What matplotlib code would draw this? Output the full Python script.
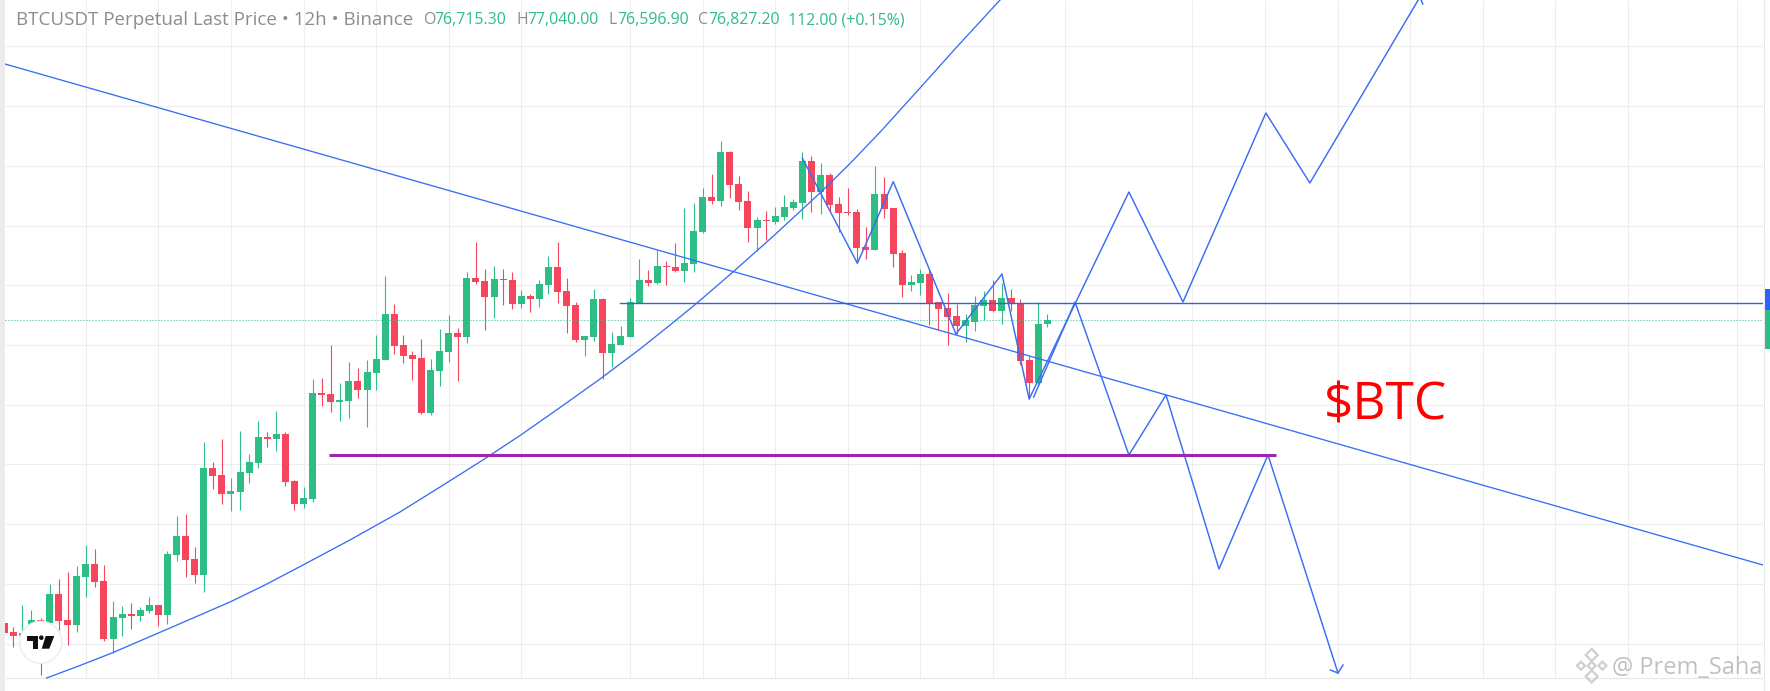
import numpy as np
import matplotlib
matplotlib.use("Agg")
import matplotlib.pyplot as plt
from matplotlib.patches import Circle, Polygon, Rectangle

# 12h candles, first one is cut by the left edge of the chart
opens = [66680, 66390, 66260, 66320, 66790, 66680, 67660, 66790, 66620, 68230, 68660, 68090, 66150, 66850, 66990, 66920, 67090, 67290, 66950, 68960,
         69600, 68830, 68290, 71880, 71640, 71010, 71080, 71710, 72050, 72920, 72850, 73020, 71440, 70670, 70840, 74390, 74360, 74090, 74120, 74790,
         74490, 75060, 75500, 77040, 76000, 75660, 75560, 73720, 75130, 75770, 76400, 76270, 78240, 78140, 77610, 78210, 78180, 77370, 77640, 77540,
         78010, 78610, 77810, 77340, 76170, 76270, 77540, 75730, 76000, 76270, 77410, 78180, 78080, 78650, 78610, 78480, 78710, 79790, 80960, 80820,
         82470, 81390, 80820, 79920, 80190, 80120, 80290, 80590, 80760, 82160, 81130, 81700, 80720, 80450, 80450, 79280, 79180, 81060, 80590, 79080,
         78010, 78080, 78380, 77440, 77240, 76970, 76640, 76770, 77310, 77510, 77140, 77570, 77410, 75500, 74730, 76715.3]
highs = [66700, 66550, 67290, 67120, 66850, 67990, 68160, 68400, 68600, 69300, 69170, 68630, 67420, 67260, 67360, 67220, 67560, 67290, 69100, 70270,
         70340, 69230, 72750, 72080, 72850, 71540, 73120, 72350, 73450, 73090, 73790, 73090, 71480, 71240, 74860, 74890, 76000, 74730, 75430, 75230,
         75500, 76330, 78310, 77370, 76330, 75800, 76200, 75530, 76540, 77000, 76570, 78450, 79450, 78550, 78650, 78550, 78450, 77840, 77710, 78180,
         78980, 79450, 78240, 77440, 76300, 77880, 77580, 76440, 76640, 77580, 78880, 78510, 79180, 78810, 79420, 80590, 80760, 81260, 81730, 82830,
         82500, 81660, 81160, 80290, 80490, 80620, 81020, 80890, 82470, 82330, 82100, 81760, 80960, 81260, 80560, 79950, 82000, 81630, 80590, 79180,
         78340, 78550, 78510, 77440, 77740, 77370, 77040, 77640, 77810, 78180, 78080, 77880, 77540, 75630, 77440, 77040]
lows = [66300, 65890, 65900, 66000, 64940, 66510, 66450, 65950, 66390, 67560, 67890, 66080, 65670, 66250, 66490, 66750, 67020, 66590, 66650, 68760,
        68230, 68030, 67730, 71180, 70670, 70440, 70470, 71380, 71880, 72580, 72450, 71280, 70470, 70540, 70740, 73960, 73760, 73450, 73550, 74220,
        73250, 74490, 75500, 75700, 75400, 74830, 73690, 73650, 74630, 75430, 74790, 76070, 78040, 76500, 76900, 77340, 77210, 77240, 77110, 77270,
        77710, 77410, 76400, 76100, 75630, 76130, 74860, 75260, 76000, 76270, 77410, 77980, 78040, 78010, 78450, 78110, 78450, 79750, 80720, 80660,
        80920, 80520, 79450, 79150, 79520, 80050, 80190, 80520, 80220, 80450, 80390, 80450, 79790, 80350, 78750, 78880, 79180, 80250, 78610, 77610,
        77810, 77670, 76670, 76500, 76000, 76370, 76100, 76470, 76840, 77110, 76700, 77140, 75330, 74190, 74660, 76596.9]
closes = [66360, 66250, 66340, 66790, 66720, 67660, 66750, 66620, 68260, 68660, 68060, 66150, 66890, 66990, 66920, 67120, 67290, 66950, 69000, 69600,
          68800, 68290, 71880, 71610, 71010, 71110, 71740, 72080, 72920, 72850, 73020, 71410, 70670, 70870, 74390, 74320, 74090, 74160, 74790, 74490,
          75100, 75530, 77040, 75970, 75630, 75530, 73720, 75160, 75800, 76400, 76270, 78240, 78110, 77610, 78210, 78180, 77370, 77640, 77540, 78040,
          78610, 77780, 77310, 76170, 76300, 77540, 75730, 76030, 76300, 77440, 78180, 78080, 78650, 78610, 78480, 78750, 79820, 80960, 80820, 82470,
          81360, 80790, 79920, 80190, 80150, 80320, 80620, 80790, 82160, 81130, 81700, 80690, 80420, 80420, 79250, 79180, 81060, 80560, 79050, 78010,
          78110, 78380, 77400, 77210, 76940, 76640, 76840, 77340, 77510, 77140, 77570, 77370, 75460, 74730, 76700, 76827.2]

# hand drawn lines on the chart, x in bars, y in price
trend_x = [-0.92, 192.9]
trend_y = [85413, 68630]
curve_x = [3.68, 7.35, 10.88, 17.28, 23.89, 27.75, 31.94, 37.12, 42.63, 47.05, 51.78, 55.87, 60.28, 64.69, 69.10, 72.41, 75.38, 79.35, 83.98, 88.94, 92.25, 95.78, 99.97, 103.72, 108.79, 109.9]
curve_y = [64845, 65263, 65682, 66520, 67390, 67960, 68630, 69468, 70405, 71243, 72148, 72968, 73906, 74861, 75866, 76670, 77407, 78446, 79698, 81092, 82077, 83202, 84610, 85882, 87557, 87900]
upper_x = [87.0, 93.06, 97.02, 103.93, 109.0, 112.0, 123.0, 128.96, 138.1, 142.95, 155.09, 155.4]
upper_y = [82254, 78737, 81471, 76368, 78378, 74191, 81125, 77440, 83772, 81427, 87658, 87423]
lower_x = [112.5, 117.06, 123.0, 127.09, 132.93, 138.33, 146.05]
lower_y = [74258, 77440, 72315, 74325, 68496, 72315, 65012]
head_x = [145.2, 146.05, 146.6]
head_y = [65112, 65012, 65280]
level_x = [66.9, 192.9]
level_price = 77397
support_x = [34.8, 139.2]
support_price = 72315

price_grid = [66000, 68000, 70000, 72000, 74000, 76000, 78000, 80000, 82000, 84000, 86000]
time_grid = [8, 16, 24, 32, 40, 48, 56, 68, 76, 84, 92, 100, 108, 116, 130, 138, 146, 154, 162, 170, 178, 190]

title = "BTCUSDT Perpetual Last Price • 12h • Binance"
ohlc_labels = ["O", "H", "L", "C"]
ohlc_values = ["76,715.30", "77,040.00", "76,596.90", "76,827.20"]
change_text = "112.00 (+0.15%)"

GREEN = "#2ebd85"
RED = "#f6465d"
BLUE = "#3a6df5"
GRID = "#eeeeee"
GRAY = "#8d8d8d"

fig = plt.figure(figsize=(17.7, 6.91), dpi=100, facecolor="white")
ax = fig.add_axes([0, 0, 1, 1])
ax.set_xlim(-1.466, 193.68)
ax.set_ylim(64409, 87557)
ax.axis("off")

left, right, bottom, top = -0.92, 192.9, 64845, 87557
ax.hlines(price_grid, left, right, color=GRID, lw=0.8, zorder=1)
ax.vlines(time_grid, bottom, top, color=GRID, lw=0.8, zorder=1)
ax.hlines(bottom, left, right, color="#e8e8e8", lw=0.9, zorder=1)

x = np.arange(-1, 115)
o = np.array(opens)
h = np.array(highs)
l = np.array(lows)
c = np.array(closes)
colors = [GREEN if close >= op else RED for op, close in zip(o, c)]

ax.vlines(x, l, h, color=colors, lw=0.8, zorder=2)
ax.bar(x, np.abs(c - o), bottom=np.minimum(o, c), width=0.772, color=colors, linewidth=0, zorder=3)

ax.hlines(closes[-1], left, right, color=GREEN, lw=0.72, linestyles=(0, (1, 2)), zorder=4)
ax.plot(trend_x, trend_y, color=BLUE, lw=0.95, zorder=5)
ax.plot(curve_x, curve_y, color=BLUE, lw=0.95, zorder=5, solid_joinstyle="round")
ax.plot(upper_x, upper_y, color=BLUE, lw=1.05, zorder=5)
ax.plot(lower_x, lower_y, color=BLUE, lw=1.05, zorder=5)
ax.plot(head_x, head_y, color=BLUE, lw=1.05, zorder=5)
ax.plot(level_x, [level_price, level_price], color="#2f62ea", lw=1.0, zorder=5)
ax.plot(support_x, [support_price, support_price], color="#9c27b0", lw=2.2, zorder=5, solid_capstyle="butt")

# second axes in picture pixels for everything around the chart itself
deco = fig.add_axes([0, 0, 1, 1])
deco.set_xlim(0, 1770)
deco.set_ylim(691, 0)
deco.axis("off")

deco.add_patch(Rectangle((0, 0), 5, 691, color="#ececec", lw=0))
deco.add_patch(Rectangle((1763, 0), 7, 691, color="white", lw=0))
deco.plot([1763.5, 1763.5], [0, 691], color="#e8e8e8", lw=0.8)
deco.add_patch(Rectangle((1764, 289), 6, 21, color="#2962ff", lw=0))
deco.add_patch(Rectangle((1764, 310), 6, 39, color=GREEN, lw=0))

font = "Open Sans"
deco.text(16, 20, title, color=GRAY, fontsize=13.5, family=font, va="center", ha="left")
label_x = [424, 517, 609, 698]
value_x = [434, 527, 617, 708]
for lx, vx, lab, val in zip(label_x, value_x, ohlc_labels, ohlc_values):
    deco.text(lx, 20, lab, color=GRAY, fontsize=11.4, family=font, va="center", ha="left")
    deco.text(vx, 20, val, color=GREEN, fontsize=11.4, family=font, va="center", ha="left")
deco.text(788, 20, change_text, color=GREEN, fontsize=11.4, family=font, va="center", ha="left")

deco.text(1324, 419, "$BTC", color="#ff0000", fontsize=37, family=font, va="baseline", ha="left")

# tradingview badge
deco.add_patch(Circle((40.7, 642.3), 21, facecolor="white", edgecolor="#ececec", lw=1))
deco.add_patch(Polygon([(27.3, 636), (38.3, 636), (38.3, 648.7), (32.7, 648.7), (32.7, 640.7), (27.3, 640.7)], color="#111111", lw=0))
deco.add_patch(Circle((41.3, 637.7), 2.3, color="#111111", lw=0))
deco.add_patch(Polygon([(45.7, 636), (54.3, 636), (49.3, 648.7), (41.7, 648.7)], color="#111111", lw=0))

# binance watermark
for cx, cy, r in [(1591.7, 665.7, 4), (1581, 665.7, 4), (1602.4, 665.7, 4), (1591.7, 655, 6), (1591.7, 676.4, 6)]:
    deco.add_patch(Polygon([(cx - r, cy), (cx, cy - r), (cx + r, cy), (cx, cy + r)], facecolor="none", edgecolor="#cfcfcf", lw=1.6))
deco.text(1612, 668, "@ Prem_Saha", color="#c0c0c0", fontsize=17, family=font, va="center", ha="left")

fig.savefig("out.png", dpi=100, facecolor="white")
